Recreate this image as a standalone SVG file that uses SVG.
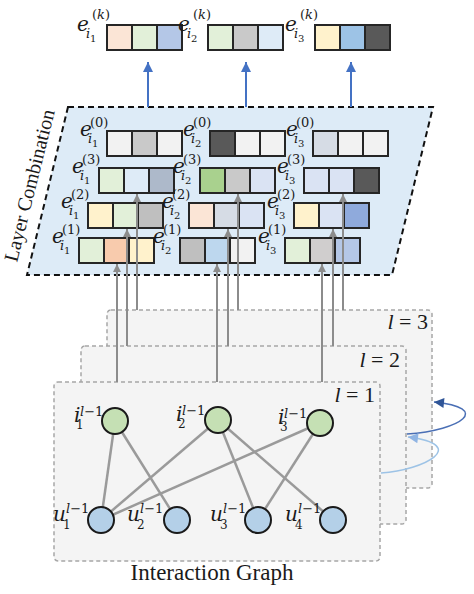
<svg xmlns="http://www.w3.org/2000/svg" width="474" height="594" viewBox="0 0 474 594">
<style>
.c{stroke:#262626;stroke-width:2}
.m{font-family:"DejaVu Serif","Liberation Serif",serif;font-style:italic;fill:#1a1a1a;font-size:20px}
.sp{font-size:13px}
.d{font-size:10px;font-style:normal}
.up{font-style:normal}
.layer{fill:#f4f4f4;stroke:#a6a6a6;stroke-width:1.5;stroke-dasharray:4 3}
.ga{stroke:#8c8c8c;stroke-width:2;fill:none}
.ba{stroke:#4472c4;stroke-width:2;fill:none}
.edge{stroke:#9a9a9a;stroke-width:2.5}
.item{fill:#c5e0b4;stroke:#1a1a1a;stroke-width:2}
.user{fill:#b4d0e8;stroke:#1a1a1a;stroke-width:2}
.lbl{font-family:"Liberation Serif","DejaVu Serif",serif;fill:#1a1a1a}
.ns{font-size:13px}
.nd{font-size:12px;font-style:normal}
</style>
<defs>
<marker id="gh" viewBox="0 0 10 10" refX="10" refY="5" markerWidth="8" markerHeight="8" markerUnits="userSpaceOnUse" orient="auto"><path d="M0,0 L10,5 L0,10 z" fill="#8c8c8c"/></marker>
<marker id="bh" viewBox="0 0 10 10" refX="10" refY="5" markerWidth="11" markerHeight="10" markerUnits="userSpaceOnUse" orient="auto"><path d="M0,0 L10,5 L0,10 z" fill="#4472c4"/></marker>
<marker id="dh" viewBox="0 0 10 10" refX="10" refY="5" markerWidth="11" markerHeight="10" markerUnits="userSpaceOnUse" orient="auto"><path d="M0,0 L10,5 L0,10 z" fill="#2f5597"/></marker>
<marker id="lh" viewBox="0 0 10 10" refX="10" refY="5" markerWidth="11" markerHeight="10" markerUnits="userSpaceOnUse" orient="auto"><path d="M0,0 L10,5 L0,10 z" fill="#8fb4e3"/></marker>
</defs>

<!-- layer boxes -->
<g id="layer3"><rect class="layer" x="107" y="310" width="325" height="178" rx="4"/><text class="lbl" x="428" y="329" font-size="22" text-anchor="end"><tspan font-style="italic">l</tspan> = 3</text></g>
<g id="layer2"><rect class="layer" x="81" y="346" width="325" height="178" rx="4"/><text class="lbl" x="400" y="367" font-size="22" text-anchor="end"><tspan font-style="italic">l</tspan> = 2</text></g>
<g id="layer1"><rect class="layer" x="54" y="382" width="326" height="179" rx="4"/><text class="lbl" x="375" y="402" font-size="22" text-anchor="end"><tspan font-style="italic">l</tspan> = 1</text></g>

<g id="edges">
<line class="edge" x1="115" y1="421" x2="101" y2="520"/>
<line class="edge" x1="115" y1="421" x2="177" y2="520"/>
<line class="edge" x1="218" y1="420" x2="101" y2="520"/>
<line class="edge" x1="218" y1="420" x2="258" y2="520"/>
<line class="edge" x1="218" y1="420" x2="333" y2="520"/>
<line class="edge" x1="320" y1="423" x2="101" y2="520"/>
<line class="edge" x1="320" y1="423" x2="258" y2="520"/>
</g>

<g id="i1"><circle class="item" cx="115" cy="421" r="13"/><text class="m" x="74" y="422">i<tspan class="nd" x="76" y="429">1</tspan><tspan class="ns" x="80" y="416">l<tspan class="up">−1</tspan></tspan></text></g>
<g id="i2"><circle class="item" cx="218" cy="420" r="13"/><text class="m" x="176" y="421">i<tspan class="nd" x="178" y="428">2</tspan><tspan class="ns" x="182" y="415">l<tspan class="up">−1</tspan></tspan></text></g>
<g id="i3"><circle class="item" cx="320" cy="423" r="13"/><text class="m" x="278" y="424">i<tspan class="nd" x="280" y="431">3</tspan><tspan class="ns" x="284" y="418">l<tspan class="up">−1</tspan></tspan></text></g>
<g id="u1"><circle class="user" cx="101" cy="520" r="13"/><text class="m" x="53" y="521">u<tspan class="nd" x="63" y="529">1</tspan><tspan class="ns" x="66" y="513">l<tspan class="up">−1</tspan></tspan></text></g>
<g id="u2"><circle class="user" cx="177" cy="520" r="13"/><text class="m" x="127" y="521">u<tspan class="nd" x="137" y="529">2</tspan><tspan class="ns" x="140" y="513">l<tspan class="up">−1</tspan></tspan></text></g>
<g id="u3"><circle class="user" cx="258" cy="520" r="13"/><text class="m" x="210" y="521">u<tspan class="nd" x="220" y="529">3</tspan><tspan class="ns" x="223" y="513">l<tspan class="up">−1</tspan></tspan></text></g>
<g id="u4"><circle class="user" cx="333" cy="520" r="13"/><text class="m" x="285" y="521">u<tspan class="nd" x="295" y="529">4</tspan><tspan class="ns" x="298" y="513">l<tspan class="up">−1</tspan></tspan></text></g>

<text id="graph-title" class="lbl" x="212" y="580" font-size="23" text-anchor="middle">Interaction Graph</text>

<!-- layer combination -->
<g id="layer-combination">
<path d="M68,107 L433,107 L392,275 L27,275 Z" fill="#ddebf7" stroke="#111" stroke-width="2" stroke-dasharray="6 4"/>
<text class="lbl" transform="translate(36,187) rotate(-76)" font-size="20" text-anchor="middle">Layer Combination</text>
</g>

<!-- row 0 -->
<g id="e0-i1" transform="translate(107,131)"><rect class="c" width="25" height="25" fill="#f2f2f2"/><rect class="c" x="25" width="25" height="25" fill="#c9c9c9"/><rect class="c" x="50" width="25" height="25" fill="#f2f2f2"/><text class="m" x="-27" y="5">e<tspan class="sp" x="-19" y="12">i</tspan><tspan class="d" x="-15" y="16">1</tspan><tspan class="sp up" x="-17" y="-4">(0)</tspan></text></g>
<g id="e0-i2" transform="translate(210,131)"><rect class="c" width="25" height="25" fill="#595959"/><rect class="c" x="25" width="25" height="25" fill="#f2f2f2"/><rect class="c" x="50" width="25" height="25" fill="#f2f2f2"/><text class="m" x="-27" y="5">e<tspan class="sp" x="-19" y="12">i</tspan><tspan class="d" x="-15" y="16">2</tspan><tspan class="sp up" x="-17" y="-4">(0)</tspan></text></g>
<g id="e0-i3" transform="translate(313,131)"><rect class="c" width="25" height="25" fill="#d6dce5"/><rect class="c" x="25" width="25" height="25" fill="#f2f2f2"/><rect class="c" x="50" width="25" height="25" fill="#f2f2f2"/><text class="m" x="-27" y="5">e<tspan class="sp" x="-19" y="12">i</tspan><tspan class="d" x="-15" y="16">3</tspan><tspan class="sp up" x="-17" y="-4">(0)</tspan></text></g>
<!-- row 3 -->
<g id="e3-i1" transform="translate(99,168)"><rect class="c" width="25" height="25" fill="#e2f0d9"/><rect class="c" x="25" width="25" height="25" fill="#deebf7"/><rect class="c" x="50" width="25" height="25" fill="#adb9ca"/><text class="m" x="-27" y="5">e<tspan class="sp" x="-19" y="12">i</tspan><tspan class="d" x="-15" y="16">1</tspan><tspan class="sp up" x="-17" y="-4">(3)</tspan></text></g>
<g id="e3-i2" transform="translate(200,168)"><rect class="c" width="25" height="25" fill="#a9d18e"/><rect class="c" x="25" width="25" height="25" fill="#c9c9c9"/><rect class="c" x="50" width="25" height="25" fill="#dae3f3"/><text class="m" x="-27" y="5">e<tspan class="sp" x="-19" y="12">i</tspan><tspan class="d" x="-15" y="16">2</tspan><tspan class="sp up" x="-17" y="-4">(3)</tspan></text></g>
<g id="e3-i3" transform="translate(304,168)"><rect class="c" width="25" height="25" fill="#dae3f3"/><rect class="c" x="25" width="25" height="25" fill="#dae3f3"/><rect class="c" x="50" width="25" height="25" fill="#595959"/><text class="m" x="-27" y="5">e<tspan class="sp" x="-19" y="12">i</tspan><tspan class="d" x="-15" y="16">3</tspan><tspan class="sp up" x="-17" y="-4">(3)</tspan></text></g>
<!-- row 2 -->
<g id="e2-i1" transform="translate(88,203)"><rect class="c" width="25" height="25" fill="#fff2cc"/><rect class="c" x="25" width="25" height="25" fill="#e2f0d9"/><rect class="c" x="50" width="25" height="25" fill="#bfbfbf"/><text class="m" x="-27" y="5">e<tspan class="sp" x="-19" y="12">i</tspan><tspan class="d" x="-15" y="16">1</tspan><tspan class="sp up" x="-17" y="-4">(2)</tspan></text></g>
<g id="e2-i2" transform="translate(189,203)"><rect class="c" width="25" height="25" fill="#fbe5d6"/><rect class="c" x="25" width="25" height="25" fill="#d6dce5"/><rect class="c" x="50" width="25" height="25" fill="#dae3f3"/><text class="m" x="-27" y="5">e<tspan class="sp" x="-19" y="12">i</tspan><tspan class="d" x="-15" y="16">2</tspan><tspan class="sp up" x="-17" y="-4">(2)</tspan></text></g>
<g id="e2-i3" transform="translate(294,203)"><rect class="c" width="25" height="25" fill="#fff2cc"/><rect class="c" x="25" width="25" height="25" fill="#dae3f3"/><rect class="c" x="50" width="25" height="25" fill="#8faadc"/><text class="m" x="-27" y="5">e<tspan class="sp" x="-19" y="12">i</tspan><tspan class="d" x="-15" y="16">3</tspan><tspan class="sp up" x="-17" y="-4">(2)</tspan></text></g>
<!-- row 1 -->
<g id="e1-i1" transform="translate(79,238)"><rect class="c" width="25" height="25" fill="#e2f0d9"/><rect class="c" x="25" width="25" height="25" fill="#f8cbad"/><rect class="c" x="50" width="25" height="25" fill="#fff2cc"/><text class="m" x="-27" y="5">e<tspan class="sp" x="-19" y="12">i</tspan><tspan class="d" x="-15" y="16">1</tspan><tspan class="sp up" x="-17" y="-4">(1)</tspan></text></g>
<g id="e1-i2" transform="translate(180,238)"><rect class="c" width="25" height="25" fill="#bfbfbf"/><rect class="c" x="25" width="25" height="25" fill="#bdd7ee"/><rect class="c" x="50" width="25" height="25" fill="#f2f2f2"/><text class="m" x="-27" y="5">e<tspan class="sp" x="-19" y="12">i</tspan><tspan class="d" x="-15" y="16">2</tspan><tspan class="sp up" x="-17" y="-4">(1)</tspan></text></g>
<g id="e1-i3" transform="translate(285,238)"><rect class="c" width="25" height="25" fill="#e2f0d9"/><rect class="c" x="25" width="25" height="25" fill="#d0cece"/><rect class="c" x="50" width="25" height="25" fill="#b4c7e7"/><text class="m" x="-27" y="5">e<tspan class="sp" x="-19" y="12">i</tspan><tspan class="d" x="-15" y="16">3</tspan><tspan class="sp up" x="-17" y="-4">(1)</tspan></text></g>

<!-- final embeddings -->
<g id="ek-i1" transform="translate(107,25)"><rect class="c" width="25" height="25" fill="#fbe5d6"/><rect class="c" x="25" width="25" height="25" fill="#e2f0d9"/><rect class="c" x="50" width="25" height="25" fill="#b4c7e7"/><text class="m" x="-30" y="6">e<tspan class="sp" x="-21" y="13">i</tspan><tspan class="d" x="-17" y="17">1</tspan><tspan class="sp" x="-15" y="-6"><tspan class="up">(</tspan>k<tspan class="up">)</tspan></tspan></text></g>
<g id="ek-i2" transform="translate(208,25)"><rect class="c" width="25" height="25" fill="#e2f0d9"/><rect class="c" x="25" width="25" height="25" fill="#c9c9c9"/><rect class="c" x="50" width="25" height="25" fill="#deebf7"/><text class="m" x="-30" y="6">e<tspan class="sp" x="-21" y="13">i</tspan><tspan class="d" x="-17" y="17">2</tspan><tspan class="sp" x="-15" y="-6"><tspan class="up">(</tspan>k<tspan class="up">)</tspan></tspan></text></g>
<g id="ek-i3" transform="translate(315,25)"><rect class="c" width="25" height="25" fill="#fff2cc"/><rect class="c" x="25" width="25" height="25" fill="#9dc3e6"/><rect class="c" x="50" width="25" height="25" fill="#595959"/><text class="m" x="-30" y="6">e<tspan class="sp" x="-21" y="13">i</tspan><tspan class="d" x="-17" y="17">3</tspan><tspan class="sp" x="-15" y="-6"><tspan class="up">(</tspan>k<tspan class="up">)</tspan></tspan></text></g>

<g id="connectors">
<line class="ga" x1="117" y1="382" x2="117" y2="264" marker-end="url(#gh)"/>
<line class="ga" x1="127" y1="346" x2="127" y2="229" marker-end="url(#gh)"/>
<line class="ga" x1="137" y1="310" x2="137" y2="194" marker-end="url(#gh)"/>
<line class="ga" x1="217" y1="382" x2="217" y2="264" marker-end="url(#gh)"/>
<line class="ga" x1="228" y1="346" x2="228" y2="229" marker-end="url(#gh)"/>
<line class="ga" x1="238" y1="310" x2="238" y2="194" marker-end="url(#gh)"/>
<line class="ga" x1="322" y1="382" x2="322" y2="264" marker-end="url(#gh)"/>
<line class="ga" x1="333" y1="346" x2="333" y2="229" marker-end="url(#gh)"/>
<line class="ga" x1="343" y1="310" x2="343" y2="194" marker-end="url(#gh)"/>
<line class="ba" x1="148" y1="107" x2="148" y2="62" marker-end="url(#bh)"/>
<line class="ba" x1="246" y1="107" x2="246" y2="62" marker-end="url(#bh)"/>
<line class="ba" x1="351" y1="107" x2="351" y2="62" marker-end="url(#bh)"/>
<path d="M407,434 C462,430 492,408 434,402" fill="none" stroke="#4a6fb5" stroke-width="1.5" marker-end="url(#dh)"/>
<path d="M381,473 C425,470 470,445 408,437" fill="none" stroke="#9dc3e6" stroke-width="1.5" marker-end="url(#lh)"/>
</g>
</svg>
